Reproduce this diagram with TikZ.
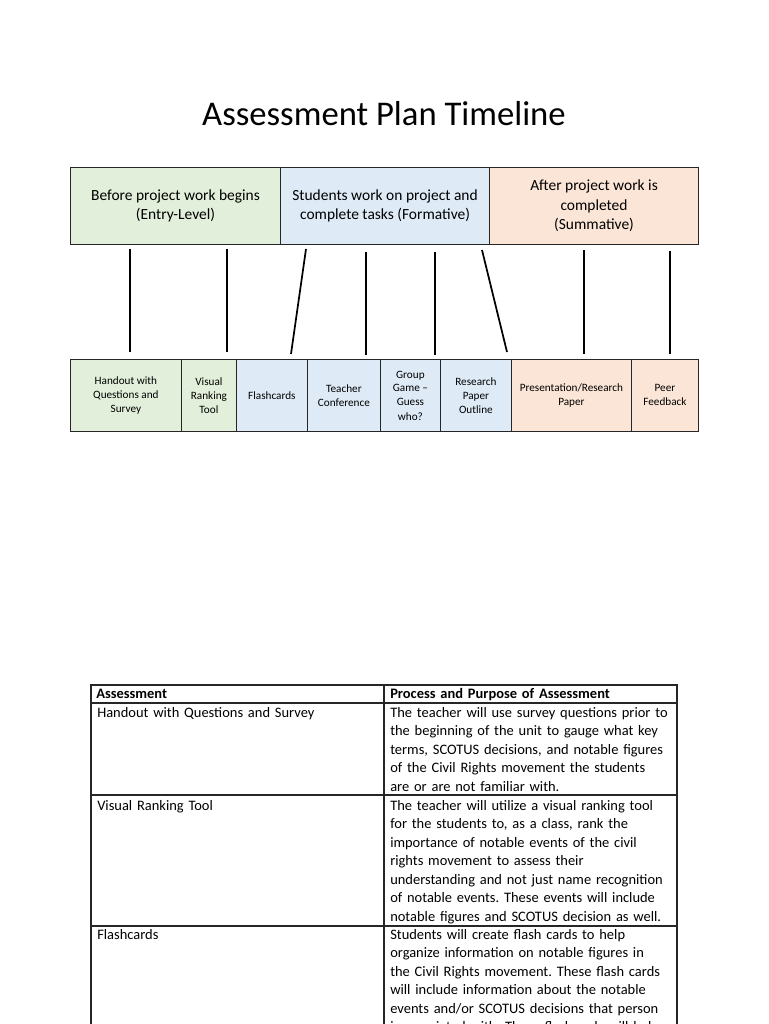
\documentclass[tikz,border=0pt]{standalone}
\usepackage{fontspec}
\setmainfont{Carlito}
\frenchspacing
\newlength\pxu \setlength\pxu{0.75pt}
\definecolor{entry}{RGB}{226,239,218}
\definecolor{formative}{RGB}{222,235,247}
\definecolor{summative}{RGB}{251,229,214}
\begin{document}
\begin{tikzpicture}[x=0.75pt,y=-0.75pt,
  stage/.style={draw=black!85,line width=0.8pt,anchor=north west,inner sep=0pt,
    minimum height=77*\pxu,align=center,font=\fontsize{11.6}{14.6}\selectfont},
  item/.style={draw=black!85,line width=0.6pt,anchor=north west,inner sep=0pt,
    minimum height=72*\pxu,align=center,font=\fontsize{8.4}{10.5}\selectfont},
  link/.style={line width=1.3pt},
  linkthin/.style={line width=0.8pt},
  grid/.style={draw=black!85,line width=1pt},
  cell/.style={anchor=base west,align=left,inner sep=0pt,text width=320*\pxu,
    font=\fontsize{10.85}{13.9}\selectfont}]
\useasboundingbox[fill=white] (0,0) rectangle (768,1024);
% title
\node (title) at (384,114) {\fontsize{26}{30}\selectfont Assessment Plan Timeline};
% stages
\node[stage,fill=entry,minimum width=210*\pxu] (before) at (70,167) {Before project work begins\\(Entry-Level)};
\node[stage,fill=formative,minimum width=209*\pxu] (during) at (280,167) {Students work on project and\\complete tasks (Formative)};
\node[stage,fill=summative,minimum width=209*\pxu] (after) at (489,167) {After project work is\\completed\\(Summative)};
% assessments
\node[item,fill=entry,minimum width=111*\pxu] (handout) at (70,359) {Handout with\\Questions and\\Survey};
\node[item,fill=entry,minimum width=55*\pxu] (ranking) at (181,359) {Visual\\Ranking\\Tool};
\node[item,fill=formative,minimum width=71*\pxu] (flash) at (236,359) {Flashcards};
\node[item,fill=formative,minimum width=73*\pxu] (conf) at (307,359) {Teacher\\Conference};
\node[item,fill=formative,minimum width=60*\pxu] (game) at (380,359) {Group\\Game --\\Guess\\who?};
\node[item,fill=formative,minimum width=71*\pxu] (outline) at (440,359) {Research\\Paper\\Outline};
\node[item,fill=summative,minimum width=120*\pxu] (present) at (511,359) {Presentation/Research\\Paper};
\node[item,fill=summative,minimum width=67*\pxu] (peer) at (631,359) {Peer\\Feedback};
% connector ends
\coordinate (t1) at (130,249); \coordinate (b1) at (130,352);
\coordinate (t2) at (227,249); \coordinate (b2) at (227,352);
\coordinate (t3) at (306,249); \coordinate (b3) at (291,354);
\coordinate (t4) at (366,252); \coordinate (b4) at (366,355);
\coordinate (t5) at (435,252); \coordinate (b5) at (435,355);
\coordinate (t6) at (482,250); \coordinate (b6) at (507,352);
\coordinate (t7) at (584,250); \coordinate (b7) at (584,354);
\coordinate (t8) at (670,251); \coordinate (b8) at (670,354);
\foreach \i in {1,3,5,6,7,8} \draw[link] (t\i) -- (b\i);
\foreach \i in {2,4} \draw[linkthin] (t\i) -- (b\i);
% table
\draw[grid] (91,1030) -- (91,685) -- (677,685) -- (677,1030);
\draw[grid] (384,685) -- (384,1030);
\draw[grid] (91,703) -- (677,703);
\draw[grid] (91,795) -- (677,795);
\draw[grid] (91,926) -- (677,926);
\node[cell,font=\fontsize{10.85}{13.9}\bfseries] (head1) at (96,698) {Assessment};
\node[cell,font=\fontsize{10.85}{13.9}\bfseries] (head2) at (390,698) {Process and Purpose of Assessment};
\node[cell] (a1) at (97,717) {Handout with Questions and Survey};
\node[cell] (p1) at (390,717) {The teacher will use survey questions prior to\\the beginning of the unit to gauge what key\\terms, SCOTUS decisions, and notable figures\\of the Civil Rights movement the students\\are or are not familiar with.};
\node[cell] (a2) at (97,810) {Visual Ranking Tool};
\node[cell] (p2) at (390,810) {The teacher will utilize a visual ranking tool\\for the students to, as a class, rank the\\importance of notable events of the civil\\rights movement to assess their\\understanding and not just name recognition\\of notable events. These events will include\\notable figures and SCOTUS decision as well.};
\node[cell] (a3) at (97,939) {Flashcards};
\node[cell] (p3) at (390,939) {Students will create flash cards to help\\organize information on notable figures in\\the Civil Rights movement. These flash cards\\will include information about the notable\\events and/or SCOTUS decisions that person\\is associated with. These flashcards will help};
\end{tikzpicture}
\end{document}
